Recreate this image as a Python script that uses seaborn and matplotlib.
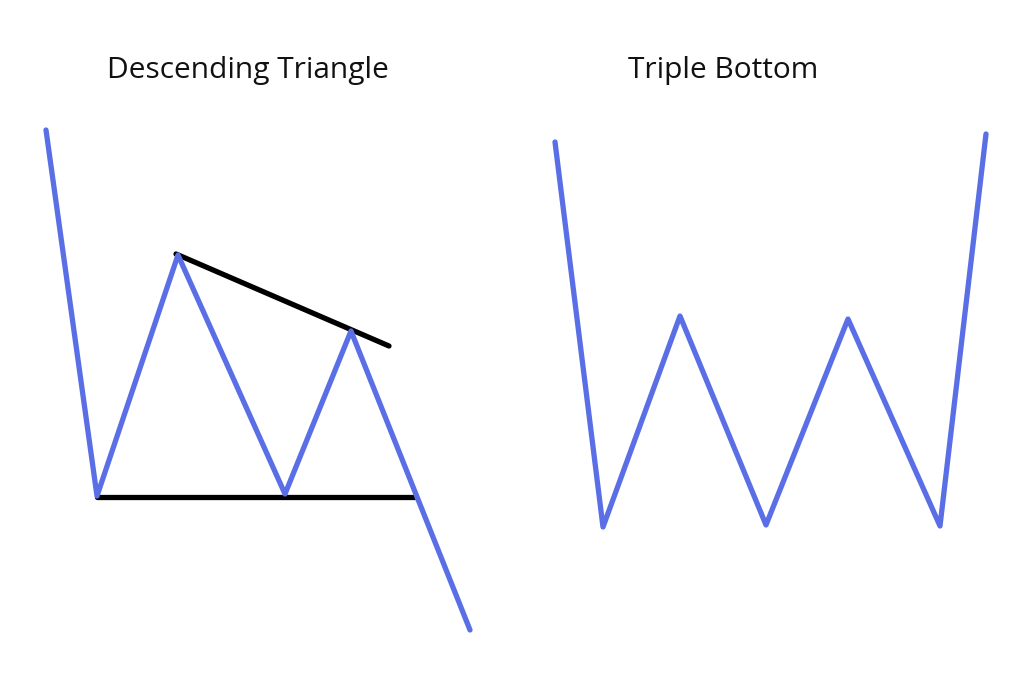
import numpy as np
import pandas as pd
import matplotlib.pyplot as plt
import seaborn as sns

# Pattern points (pixel-like units, y grows downward)
desc_x = [46, 97, 178, 285, 351, 470]
desc_y = [130, 496, 255, 494, 331, 630]
desc_top_x = [176, 389]
desc_top_y = [254, 346]
desc_base_x = [97, 416]
desc_base_y = [497, 497]

triple_x = [555, 603, 680, 766, 848, 940, 986]
triple_y = [142, 527, 316, 525, 319, 526, 134]

titles = ["Descending Triangle", "Triple Bottom"]

blue = "#5a6fe6"

sns.set_theme(style="white")
plt.rcParams["font.family"] = ["Open Sans", "DejaVu Sans"]

fig = plt.figure(figsize=(10.24, 6.94), dpi=100)
ax = fig.add_axes([0, 0, 1, 1])

desc = pd.DataFrame({"x": desc_x, "y": desc_y})
top = pd.DataFrame({"x": desc_top_x, "y": desc_top_y})
base = pd.DataFrame({"x": desc_base_x, "y": desc_base_y})
triple = pd.DataFrame({"x": triple_x, "y": triple_y})

line_kw = dict(sort=False, estimator=None, linewidth=3.8,
               solid_capstyle="round", solid_joinstyle="round")
sns.lineplot(data=top, x="x", y="y", color="black", ax=ax, **line_kw)
sns.lineplot(data=base, x="x", y="y", color="black", ax=ax, **line_kw)
sns.lineplot(data=desc, x="x", y="y", color=blue, ax=ax, **line_kw)
sns.lineplot(data=triple, x="x", y="y", color=blue, ax=ax, **line_kw)

ax.set_xlim(0, 1024)
ax.set_ylim(694, 0)
ax.axis("off")

ax.text(248, 70, titles[0], ha="center", va="center", fontsize=21.5, color="#111111")
ax.text(723, 70, titles[1], ha="center", va="center", fontsize=21.5, color="#111111")

plt.savefig("out.png", dpi=100, facecolor="white")
